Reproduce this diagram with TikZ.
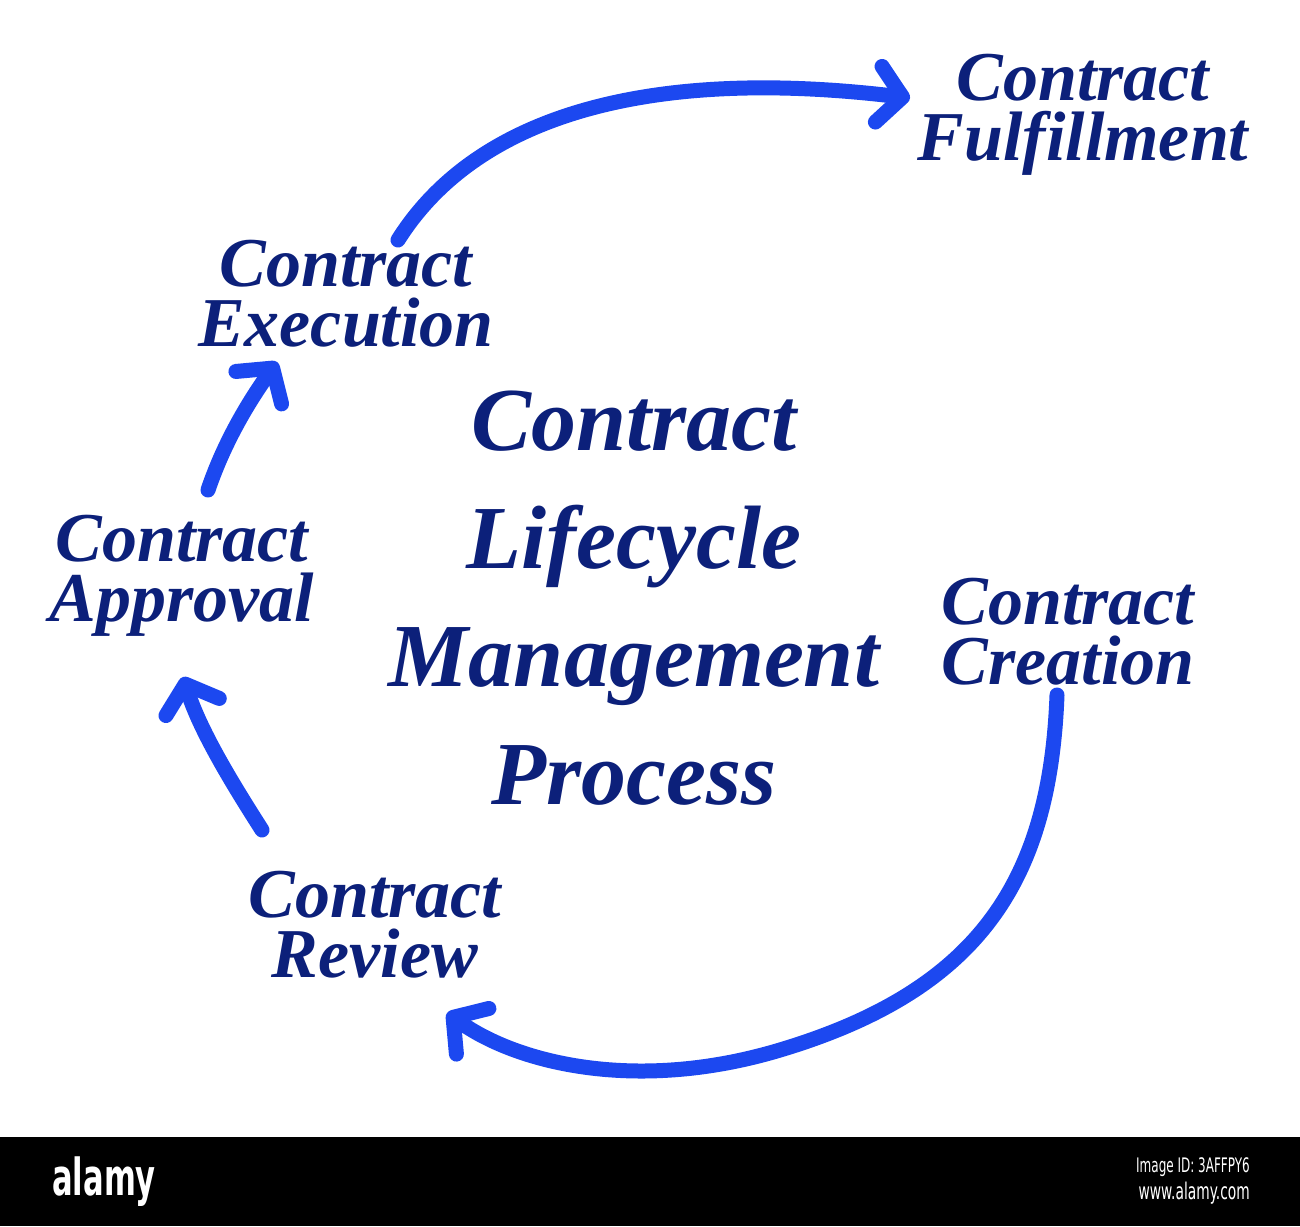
\documentclass[tikz,border=0pt]{standalone}
\usepackage{fontspec}
\usetikzlibrary{arrows.meta,calc}
\newfontfamily\lblfont{Liberation Serif}
\newfontfamily\wmfont{DejaVu Sans}[FakeStretch=0.6]
\definecolor{txtblue}{RGB}{12,32,122}
\definecolor{arrblue}{RGB}{28,72,240}
\tikzset{
  lbl/.style={font=\lblfont\bfseries\itshape\fontsize{70}{60}\selectfont, text=txtblue, align=center, inner sep=0pt, anchor=base},
  ttl/.style={font=\lblfont\bfseries\itshape\fontsize{90}{118}\selectfont, text=txtblue, align=center, inner sep=0pt, anchor=base},
  flow/.style={draw=arrblue, line width=15pt, line cap=round, -{Straight Barb[length=24pt,width=56pt,round]}},
  wm/.style={text=white, inner sep=0pt}
}
\begin{document}
\begin{tikzpicture}[x=1pt,y=-1pt]
\useasboundingbox (0,0) rectangle (1300,1226);
\fill[white] (0,0) rectangle (1300,1226);
\node[ttl] (title) at (634,804) {Contract\\Lifecycle\\Management\\Process};
\node[lbl] (fulf) at (1083,160) {Contract\\Fulfillment};
\node[lbl] (exec) at (346,346) {Contract\\Execution};
\node[lbl] (appr) at (182,621) {Contract\\Approval};
\node[lbl] (crea) at (1068,684) {Contract\\Creation};
\node[lbl] (rev) at (375,977) {Contract\\Review};
\draw[flow] ([shift={(52,-106)}]exec.base) .. controls (480,110) and (660,68) .. ([shift={(-173,-62)}]fulf.base);
\draw[flow] ([shift={(26,-131)}]appr.base) .. controls (225,440) and (250,400) .. ([shift={(-69,16)}]exec.base);
\draw[flow] ([shift={(-113,-147)}]rev.base) .. controls (230,780) and (200,730) .. ([shift={(1,56)}]appr.base);
\coordinate (mid) at (780,1050);
\draw[flow] ([shift={(-11,11)}]crea.base) .. controls (1050,880) and (980,990) .. (mid) .. controls (640,1092) and (520,1065) .. ([shift={(72,36)}]rev.base);
\fill[black] (0,1137) rectangle (1300,1226);
\node[wm, font=\wmfont\bfseries\fontsize{51}{51}\selectfont, anchor=base west] (alamy) at (52,1195) {alamy};
\node[wm, font=\wmfont\fontsize{20}{20}\selectfont, anchor=base east] (imgid) at (1250,1172) {Image ID: 3AFFPY6};
\node[wm, font=\wmfont\fontsize{23}{23}\selectfont, anchor=base east] (www) at (1250,1199) {www.alamy.com};
\end{tikzpicture}
\end{document}
